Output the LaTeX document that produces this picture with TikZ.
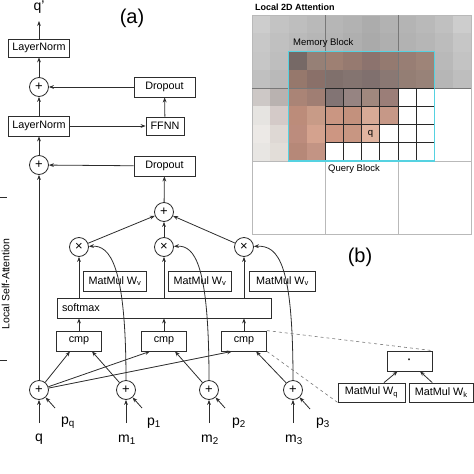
\documentclass[tikz,border=0pt]{standalone}
\usepackage{fontspec}
\setmainfont{Liberation Sans}
\usetikzlibrary{arrows.meta}
\definecolor{linec}{RGB}{45,45,45}
\definecolor{cyanb}{RGB}{85,210,225}
\definecolor{dashc}{RGB}{120,120,120}
\definecolor{lightg}{RGB}{185,185,185}
\definecolor{darkg}{RGB}{120,120,120}
\definecolor{qlinec}{RGB}{40,40,40}
\begin{document}
\begin{tikzpicture}[x=1pt,y=-1pt,
  bx/.style={draw=linec, line width=0.8pt, inner sep=0pt, minimum height=20pt, font=\fontsize{10.8}{12}\selectfont},
  opc/.style={circle, draw=linec, line width=0.8pt, minimum size=19pt, inner sep=0pt, font=\fontsize{13}{13}\selectfont},
  arr/.style={draw=linec, line width=0.8pt, -{Stealth[length=5pt,width=3.8pt]}},
  lab/.style={font=\fontsize{14}{16}\selectfont, inner sep=0pt},
  dsh/.style={draw=dashc, line width=0.6pt, dashed},
  small/.style={font=\fontsize{9.5}{10}\selectfont, inner sep=0pt},
]
\useasboundingbox (0,0) rectangle (474,474);

% ---------- panel (b) grid ----------
\fill[white] (252,15) rectangle (471,234);
\foreach \r/\c/\R/\G/\B in {
0/0/205/205/205, 0/1/195/195/195, 0/2/190/190/190, 0/3/185/185/185, 0/4/182/182/182, 0/5/178/178/178, 0/6/172/172/172, 0/7/178/178/178, 0/8/180/180/180, 0/9/185/185/185, 0/10/192/192/192, 0/11/205/205/205,
1/0/200/200/200, 1/1/192/192/192, 1/2/186/186/186, 1/3/182/182/182, 1/4/180/180/180, 1/5/175/175/175, 1/6/170/170/170, 1/7/175/175/175, 1/8/178/178/178, 1/9/182/182/182, 1/10/188/188/188, 1/11/198/198/198,
2/0/198/198/198, 2/1/190/190/190, 2/2/118/105/102, 2/3/150/128/118, 2/4/158/128/115, 2/5/150/122/112, 2/6/140/115/110, 2/7/148/122/112, 2/8/152/126/116, 2/9/158/132/120, 2/10/185/185/185, 2/11/195/195/195,
3/0/192/192/192, 3/1/185/185/185, 3/2/150/120/108, 3/3/138/112/105, 3/4/128/112/108, 3/5/132/116/112, 3/6/128/112/110, 3/7/138/120/115, 3/8/148/126/116, 3/9/152/130/120, 3/10/182/182/182, 3/11/190/190/190,
4/0/205/200/198, 4/1/185/178/176, 4/2/170/132/118, 4/3/160/126/115, 4/4/130/116/116, 4/5/150/132/130, 4/6/160/136/126, 4/7/155/126/120,
5/0/230/228/225, 5/1/212/202/200, 5/2/188/140/122, 5/3/200/155/135, 5/4/202/150/130, 5/5/195/145/125, 5/6/215/170/150, 5/7/198/152/135,
6/0/236/233/230, 6/1/222/216/212, 6/2/188/140/125, 6/3/212/162/142, 6/4/205/150/130, 6/5/200/150/130, 6/6/225/180/160,
7/0/232/230/227, 7/1/226/221/216, 7/2/182/136/120, 7/3/195/148/132}{
  \definecolor{cellc}{RGB}{\R,\G,\B}
  \fill[cellc] ({252+\c*18.25},{15+\r*18.25}) rectangle ++(18.45,18.45);
}
\draw[lightg, line width=0.7pt] (252,15) rectangle (471,234);
\foreach \v in {325,398} \draw[lightg, line width=0.7pt] (\v,15) -- (\v,234);
\foreach \h in {88,161} \draw[lightg, line width=0.7pt] (252,\h) -- (471,\h);
\draw[darkg, line width=0.7pt] (252,88) -- (471,88);
\draw[darkg, line width=0.7pt] (325,15) -- (325,88);
\draw[darkg, line width=0.7pt] (398,15) -- (398,88);
\foreach \k in {4,...,10} \draw[qlinec, line width=0.8pt] ({252+\k*18.25},88) -- ({252+\k*18.25},161);
\foreach \r in {4,...,8} \draw[qlinec, line width=0.8pt] (325,{15+\r*18.25}) -- (434.5,{15+\r*18.25});
\draw[cyanb, line width=1.4pt] (288.5,51.5) rectangle (434.5,161);
\node[small, anchor=west, font=\bfseries\fontsize{9}{10}\selectfont] (t2d) at (255,7) {Local 2D Attention};
\node[small, anchor=west] (tmem) at (293,43) {Memory Block};
\node[small, anchor=west] (tqb) at (328,169) {Query Block};
\node[small] (qcell) at (370.6,133.6) {q};

% ---------- labels ----------
\node[font=\fontsize{20}{22}\selectfont] (la) at (132,18) {(a)};
\node[font=\fontsize{20}{22}\selectfont] (lb) at (360,257) {(b)};
\node[rotate=90, font=\fontsize{10.5}{12}\selectfont, inner sep=0pt] (lsa) at (5.5,284) {Local Self-Attention};
\draw[linec, line width=0.8pt] (0,197) -- (7,197);
\draw[linec, line width=0.8pt] (0,360) -- (7,360);

% ---------- left column ----------
\node[lab, anchor=south] (qo) at (39,14) {q'};
\coordinate (qotip) at (39,21);
\node[bx, minimum width=61pt, minimum height=18pt] (ln2) at (39,48) {LayerNorm};
\node[opc] (pl2) at (39,87) {+};
\node[bx, minimum width=61pt] (dr2) at (164.5,87) {Dropout};
\node[bx, minimum width=61pt] (ln1) at (39,126) {LayerNorm};
\node[bx, minimum width=38pt, minimum height=18pt] (ffnn) at (165,126) {FFNN};
\node[opc] (pl1) at (39,165) {+};
\node[bx, minimum width=61pt] (dr1) at (164.5,166) {Dropout};
\node[opc] (plc) at (164,212) {+};

\node[opc] (x1) at (79,247) {×};
\node[opc] (x2) at (164,247) {×};
\node[opc] (x3) at (244,247) {×};
\node[bx, minimum width=63pt] (mm1) at (115,281) {MatMul W\textsubscript{v}};
\node[bx, minimum width=63pt] (mm2) at (200,281) {MatMul W\textsubscript{v}};
\node[bx, minimum width=66pt] (mm3) at (282.5,281) {MatMul W\textsubscript{v}};
\node[bx, minimum width=214pt, text width=204pt, align=left] (sm) at (164,308) {softmax};
\node[bx, minimum width=45pt] (cmp1) at (79,341) {cmp};
\node[bx, minimum width=45pt] (cmp2) at (164,341) {cmp};
\node[bx, minimum width=45pt] (cmp3) at (244,341) {cmp};

\node[opc] (pq) at (39,390) {+};
\node[opc] (pm1) at (126,390) {+};
\node[opc] (pm2) at (209,390) {+};
\node[opc] (pm3) at (293,390) {+};

\node[lab] (lq) at (39,439) {q};
\node[lab] (lm1) at (127,440) {m\textsubscript{1}};
\node[lab] (lm2) at (210,440) {m\textsubscript{2}};
\node[lab] (lm3) at (294,440) {m\textsubscript{3}};
\node[lab] (lpq) at (68,423) {p\textsubscript{q}};
\node[lab] (lp1) at (154,423) {p\textsubscript{1}};
\node[lab] (lp2) at (239,423) {p\textsubscript{2}};
\node[lab] (lp3) at (323,423) {p\textsubscript{3}};

\coordinate (tq) at (39,423);
\coordinate (tm1) at (126,423);
\coordinate (tm2) at (209,423);
\coordinate (tm3) at (293,423);
\coordinate (tpq) at (55,408);
\coordinate (tp1) at (142,408);
\coordinate (tp2) at (225,408);
\coordinate (tp3) at (310,409);

\draw[arr] (tq) -- (pq);
\draw[arr] (tm1) -- (pm1);
\draw[arr] (tm2) -- (pm2);
\draw[arr] (tm3) -- (pm3);
\draw[arr] (tpq) -- (pq);
\draw[arr] (tp1) -- (pm1);
\draw[arr] (tp2) -- (pm2);
\draw[arr] (tp3) -- (pm3);

\draw[arr] (pq) -- (pl1);
\draw[arr] (pl1) -- (ln1);
\draw[arr] (ln1) -- (pl2);
\draw[arr] (pl2) -- (ln2);
\draw[arr] (ln2) -- (qotip);
\draw[arr] (ln1) -- (ffnn);
\draw[arr] (ffnn) -- (dr2);
\draw[arr] (dr2) -- (pl2);
\draw[arr] (dr1) -- (pl1);
\draw[arr] (plc) -- (dr1);
\draw[arr] (x1) -- (plc);
\draw[arr] (x2) -- (plc);
\draw[arr] (x3) -- (plc);
\draw[arr] (sm.north -| x1) -- (x1);
\draw[arr] (sm.north -| x2) -- (x2);
\draw[arr] (sm.north -| x3) -- (x3);
\draw[arr] (cmp1) -- (cmp1 |- sm.south);
\draw[arr] (cmp2) -- (cmp2 |- sm.south);
\draw[arr] (cmp3) -- (cmp3 |- sm.south);

\draw[arr] (pq) -- ([xshift=-9pt]cmp1.south);
\draw[arr] (pm1) -- ([xshift=13pt]cmp1.south);
\draw[arr] (pq) -- ([xshift=-14pt]cmp2.south);
\draw[arr] (pm2) -- ([xshift=11pt]cmp2.south);
\draw[arr] (pq) -- ([xshift=-12pt]cmp3.south);
\draw[arr] (pm3) -- ([xshift=12pt]cmp3.south);

\draw[arr] (pm1) .. controls (126,265) and (110,245) .. (x1);
\draw[arr] (pm2) .. controls (209,265) and (195,245) .. (x2);
\draw[arr] (pm3) .. controls (293,265) and (279,245) .. (x3);

% ---------- dot product detail ----------
\node[bx, minimum width=45pt, font=\bfseries\fontsize{11}{12}\selectfont] (dot) at (409.5,361) {·};
\node[bx, minimum width=67pt, minimum height=19pt] (wq) at (371.5,392.5) {MatMul W\textsubscript{q}};
\node[bx, minimum width=64pt, minimum height=19pt] (wk) at (441.25,392.5) {MatMul W\textsubscript{k}};
\draw[arr] ([xshift=12.5pt]wq.north) -- ([xshift=-12pt]dot.south);
\draw[arr] ([xshift=-9pt]wk.north) -- ([xshift=10.5pt]dot.south);
\draw[dsh] (cmp3.north east) -- (dot.north east);
\draw[dsh] (cmp3.south east) -- (wq.south west);
\end{tikzpicture}
\end{document}
